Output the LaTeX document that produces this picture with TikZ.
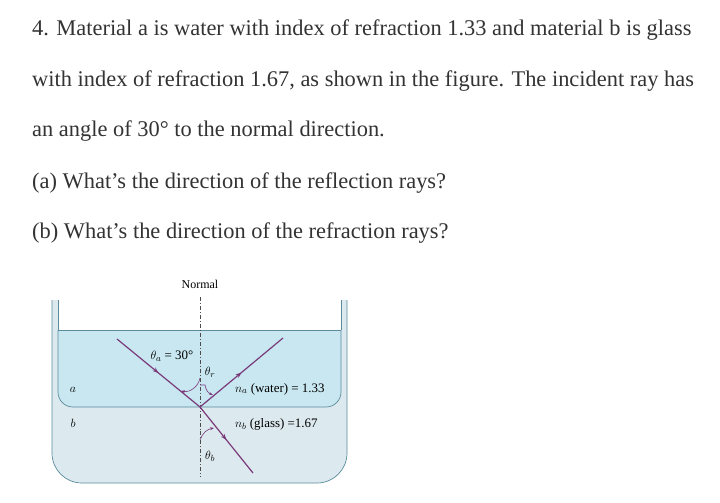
\documentclass[tikz,border=0pt]{standalone}
\usepackage{fontspec}
\setmainfont{Liberation Serif}
\usetikzlibrary{decorations.markings,arrows.meta}
\definecolor{ray}{HTML}{7A3A7A}
\definecolor{wat}{HTML}{C8E7F1}
\definecolor{gls}{HTML}{DCE9EE}
\definecolor{edge}{HTML}{5A8C9C}
\begin{document}
\begin{tikzpicture}[x=1bp,y=-1bp,
  q/.style={anchor=west,font=\fontsize{22.5}{26}\selectfont,text=black!80,inner sep=0pt},
  lbl/.style={font=\fontsize{13}{15}\selectfont,inner sep=1pt},
  rayline/.style={ray,line width=1.2pt,postaction={decorate},decoration={markings,mark=at position .5 with {\arrow{Stealth[length=6pt]}}}},
  arc/.style={ray,line width=0.6pt,-{Stealth[length=4pt]}}]
\useasboundingbox (0,0) rectangle (720,503);
\fill[white] (0,0) rectangle (720,503);
\node[q] (t1) at (32,30) {4. Material a is water with index of refraction 1.33 and material b is glass};
\node[q] (t2) at (32,81) {with index of refraction 1.67, as shown in the figure. The incident ray has};
\node[q] (t3) at (32,131) {an angle of 30\textdegree\ to the normal direction.};
\node[q] (t4) at (32,183) {(a) What's the direction of the reflection rays?};
\node[q] (t5) at (32,233) {(b) What's the direction of the refraction rays?};
% vessel
\filldraw[fill=gls,draw=edge,line width=0.7pt,rounded corners=30] (52,300) -- (52,483) -- (347,483) [sharp corners]-- (347,300);
\fill[white] (58,300) rectangle (341,330);
\filldraw[fill=wat,draw=edge,line width=0.7pt,rounded corners=15] (58,330) -- (58,407) -- (341,407) [sharp corners] -- (341,330);
\draw[edge,line width=0.7pt] (58,300) -- (58,330) (341,300) -- (341,330);
\draw[edge,line width=0.9pt] (58,330) -- (341,330);
\node[lbl,font=\fontsize{12}{14}\selectfont] (nl) at (200,284) {Normal};
\coordinate (O) at (200,407);
\coordinate (ntop) at (200,297);
\coordinate (nbot) at (200,477);
\draw[black!70,line width=0.6pt,dash pattern=on 4pt off 2pt on 1pt off 2pt] (ntop) -- (nbot);
\coordinate (inc) at (117,339);
\coordinate (refl) at (283,338);
\coordinate (refr) at (253,473);
\draw[rayline] (inc) -- (O);
\draw[rayline] (O) -- (refl);
\draw[rayline] (O) -- (refr);
\draw[arc] (200,378) to[bend left=45] (181,391);
\draw[arc] (200,385) -- (205,385) to[bend right=30] (213,395);
\draw[arc] (200,440) to[bend left=30] (214,428);
\node[lbl] (ta) at (172,356) {$\theta_a$ = 30\textdegree};
\node[lbl] (tr) at (210,372) {$\theta_r$};
\node[lbl] (tb) at (210,456) {$\theta_b$};
\node[lbl,anchor=west] (na) at (234,389) {$n_a$ (water) = 1.33};
\node[lbl,anchor=west] (nb) at (234,424) {$n_b$ (glass) =1.67};
\node[lbl] (a) at (73,390) {$a$};
\node[lbl] (b) at (73,423) {$b$};
\end{tikzpicture}
\end{document}
